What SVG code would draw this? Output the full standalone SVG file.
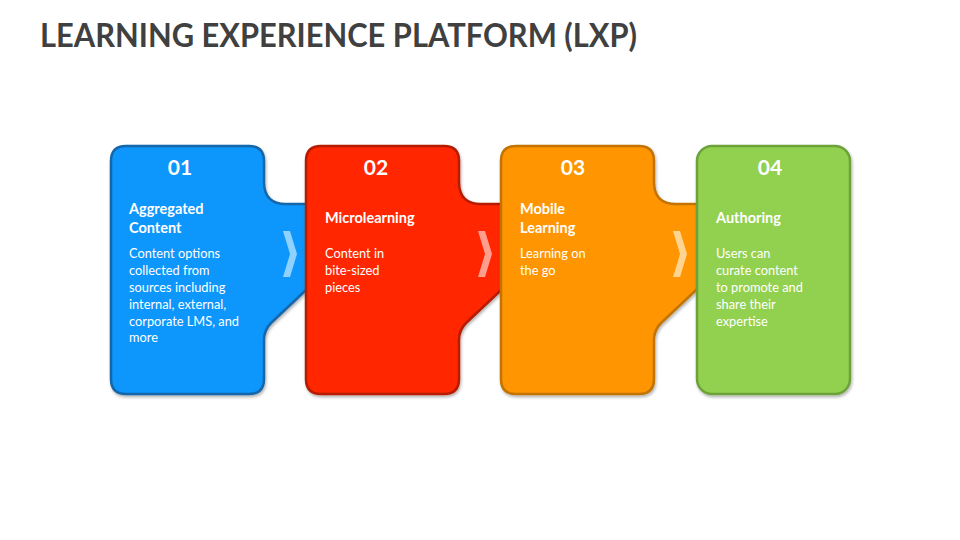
<svg xmlns="http://www.w3.org/2000/svg" width="960" height="540" viewBox="0 0 960 540">
  <defs>
    <filter id="sh" x="-10%" y="-10%" width="130%" height="130%">
      <feDropShadow dx="1" dy="2" stdDeviation="1.5" flood-color="#000" flood-opacity="0.3"/>
    </filter>
    <path id="tabCard" d="M15,0 H138 Q153,0 153,15 V36 Q153,58 175,58 H210 V130 L160,177 Q153,184 153,194 V233 Q153,248 138,248 H15 Q0,248 0,233 V15 Q0,0 15,0 Z"/>
    <path id="chev" d="M0,0 H7 L14,23 L7,46 H0 L7,23 Z"/>
  </defs>
  <style>
    text { font-family: Lato, "Open Sans", "Liberation Sans", sans-serif; fill: #ffffff; }
    .title { font-weight: 700; font-size: 33px; fill: #404040; }
    .num { font-weight: 700; font-size: 21px; text-anchor: middle; }
    .head { font-weight: 700; font-size: 14.5px; }
    .body { font-size: 12.8px; }
    .card { stroke-width: 2.5; filter: url(#sh); }
  </style>
  <rect width="960" height="540" fill="#ffffff"/>
  <text class="title" x="40" y="47" textLength="597" lengthAdjust="spacingAndGlyphs">LEARNING EXPERIENCE PLATFORM (LXP)</text>

  <g id="node-01">
    <use href="#tabCard" x="111" y="146" class="card" fill="#0796FB" stroke="#1766aa"/>
  </g>
  <g id="node-02">
    <use href="#tabCard" x="306" y="146" class="card" fill="#FF2600" stroke="#b51d00"/>
  </g>
  <g id="node-03">
    <use href="#tabCard" x="501" y="146" class="card" fill="#FF9500" stroke="#c27300"/>
  </g>
  <g id="node-04">
    <rect x="697" y="146" width="153" height="248" rx="15" class="card" fill="#92D050" stroke="#6da23a"/>
  </g>

  <g id="connectors">
    <use href="#chev" x="283" y="231" fill="#8fd2ff"/>
    <use href="#chev" x="478" y="231" fill="#ff9e8c"/>
    <use href="#chev" x="673" y="231" fill="#ffd390"/>
  </g>

  <g id="labels-01">
    <text class="num" x="180" y="175">01</text>
    <text class="head" x="129" y="214">Aggregated</text>
    <text class="head" x="129" y="233">Content</text>
    <text class="body" x="129" y="258">Content options</text>
    <text class="body" x="129" y="275">collected from</text>
    <text class="body" x="129" y="292">sources including</text>
    <text class="body" x="129" y="309">internal, external,</text>
    <text class="body" x="129" y="326">corporate LMS, and</text>
    <text class="body" x="129" y="342">more</text>
  </g>
  <g id="labels-02">
    <text class="num" x="376" y="175">02</text>
    <text class="head" x="325" y="223">Microlearning</text>
    <text class="body" x="325" y="258">Content in</text>
    <text class="body" x="325" y="275">bite-sized</text>
    <text class="body" x="325" y="292">pieces</text>
  </g>
  <g id="labels-03">
    <text class="num" x="573" y="175">03</text>
    <text class="head" x="520" y="214">Mobile</text>
    <text class="head" x="520" y="233">Learning</text>
    <text class="body" x="520" y="258">Learning on</text>
    <text class="body" x="520" y="275">the go</text>
  </g>
  <g id="labels-04">
    <text class="num" x="770" y="175">04</text>
    <text class="head" x="716" y="223">Authoring</text>
    <text class="body" x="716" y="258">Users can</text>
    <text class="body" x="716" y="275">curate content</text>
    <text class="body" x="716" y="292">to promote and</text>
    <text class="body" x="716" y="309">share their</text>
    <text class="body" x="716" y="326">expertise</text>
  </g>
</svg>
